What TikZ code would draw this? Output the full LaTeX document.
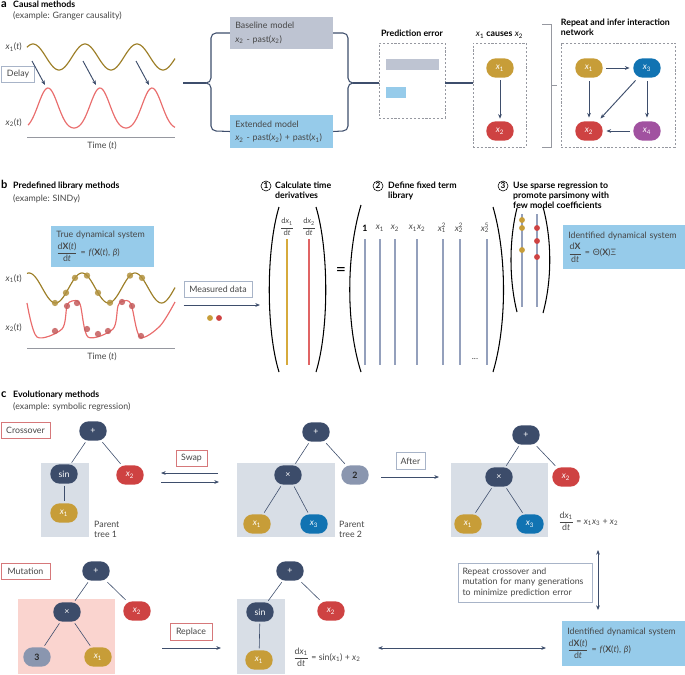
\documentclass[tikz,border=0pt]{standalone}
\usepackage{fontspec}
\setmainfont{Lato}
\usepackage{amsmath}
\usetikzlibrary{arrows.meta,positioning,calc}
\definecolor{nodegold}  {RGB}{199,157,56}
\definecolor{nodered}   {RGB}{206,66,66}
\definecolor{nodeblue}  {RGB}{17,115,178}
\definecolor{nodepurple}{RGB}{161,82,160}
\definecolor{nodenavy}  {RGB}{60,76,106}
\definecolor{nodegray}  {RGB}{138,150,175}
\definecolor{boxblue}   {RGB}{150,203,234}
\definecolor{boxgray}   {RGB}{190,196,210}
\definecolor{areagray}  {RGB}{216,222,230}
\definecolor{areapink}  {RGB}{250,212,207}
\definecolor{linenavy}  {RGB}{62,78,108}
\definecolor{tagred}    {RGB}{214,120,122}
\definecolor{taggray}   {RGB}{168,180,200}
\definecolor{wavegold}  {RGB}{157,127,40}
\definecolor{wavered}   {RGB}{233,108,108}
\definecolor{bargray}   {RGB}{148,160,188}
\definecolor{bargold}   {RGB}{214,170,60}
\definecolor{barred}    {RGB}{224,100,100}
\definecolor{dotgold}   {RGB}{178,146,62}
\definecolor{dotred}    {RGB}{196,92,92}
\definecolor{textgray}  {RGB}{70,70,70}
\definecolor{axisgray}  {RGB}{150,152,160}
\newcommand{\fsz}{\fontsize{7.5}{9}\selectfont}
\newcommand{\xs}[1]{\textit{x}\textsubscript{#1}}
\newcommand{\sqx}[2]{\textit{x}\rlap{\textsuperscript{#2}}\textsubscript{#1}}
\newcommand{\tfr}[2]{$\genfrac{}{}{0.4pt}{0}{\text{#1}}{\text{#2}}$}
\tikzset{
  pill/.style    ={rounded corners=0.28cm, minimum width=0.82cm,
                   minimum height=0.58cm, inner sep=1pt, text=white},
  gnode/.style   ={pill, fill=nodegold},
  rnode/.style   ={pill, fill=nodered},
  bnode/.style   ={pill, fill=nodeblue},
  pnode/.style   ={pill, fill=nodepurple},
  knode/.style   ={pill, fill=nodenavy},
  cnode/.style   ={pill, fill=nodegray, text=black!85, font=\fsz\bfseries},
  tagbox/.style  ={draw=taggray, fill=white, line width=0.6pt, text=textgray,
                   minimum height=0.5cm, inner sep=2pt},
  redtag/.style  ={tagbox, draw=tagred},
  infobox/.style ={align=left, text=textgray, inner sep=0.16cm,
                   font=\fontsize{7.5}{11.5}\selectfont},
  dbox/.style    ={draw=axisgray, dash pattern=on 1.8pt off 1.5pt, line width=0.5pt},
  greyarea/.style={fill=areagray, inner sep=0pt},
  pinkarea/.style={fill=areapink, inner sep=0pt},
  arr/.style     ={-{Stealth[length=4pt,width=3.2pt]}, draw=linenavy, line width=0.8pt},
  darr/.style    ={{Stealth[length=4pt,width=3.2pt]}-{Stealth[length=4pt,width=3.2pt]},
                   draw=linenavy, line width=0.8pt},
  tedge/.style   ={draw=linenavy, line width=0.5pt, shorten <=1.5pt, shorten >=1.5pt},
  braceline/.style={draw=linenavy, line width=0.9pt},
  headtxt/.style ={font=\fontsize{7.5}{8.6}\selectfont\bfseries, inner sep=0pt,
                   align=left, text=black},
  subtxt/.style  ={inner sep=0pt, text=textgray},
  letter/.style  ={font=\fontsize{9.5}{9.5}\selectfont\bfseries, inner sep=0pt, text=black},
  numcirc/.style ={draw, circle, inner sep=0.5pt, minimum size=0.3cm,
                   font=\fontsize{7}{7}\selectfont\bfseries, line width=0.5pt, text=black},
  colbar/.style  ={line width=2.1pt, draw=bargray},
  parline/.style ={line width=0.9pt},
  wave/.style    ={line width=1pt},
}

\begin{document}
\begin{tikzpicture}[x=0.03cm, y=-0.03cm, font=\fsz, text=textgray]
  \useasboundingbox (0,0) rectangle (685,674);

  %% a: causal methods
  \node[letter, anchor=base west]  (la) at (1,7.5)   {a};
  \node[headtxt, anchor=base west] (ha) at (13,7.5)  {Causal methods};
  \node[subtxt, anchor=base west]  (sa) at (13,18.5) {(example: Granger causality)};

  \node[subtxt, anchor=base east] (lx1a) at (22,50)  {\xs{1}(\textit{t})};
  \node[subtxt, anchor=base east] (lx2a) at (22,125) {\xs{2}(\textit{t})};
  \draw[wave, draw=wavegold] plot[domain=27:175, samples=120]
    (\x, {57-13*cos((\x-85)*6.9231)});
  \draw[wave, draw=wavered] plot[domain=28:175, samples=120]
    (\x, {128-40*(0.5*(0.5+0.5*cos((\x-48)*6.9231))+0.5*(0.5+0.5*cos((\x-48)*6.9231))^2)});
  \node[tagbox, minimum width=0.99cm] (delay) at (18,74.5) {Delay};
  \coordinate (da1) at (32,61);  \coordinate (db1) at (45,85);
  \coordinate (da2) at (83,61);  \coordinate (db2) at (96,85);
  \coordinate (da3) at (136,61); \coordinate (db3) at (149,85);
  \draw[arr] (da1) -- (db1);
  \draw[arr] (da2) -- (db2);
  \draw[arr] (da3) -- (db3);
  \draw[axisgray, line width=0.6pt] (27,137) -- (175,137);
  \node[subtxt] (tma) at (102,145.5) {Time (\textit{t})};

  \node[infobox, fill=boxgray, minimum width=3.09cm, minimum height=0.96cm,
        text width=2.77cm] (bmod) at (281.5,33) {Baseline model\\\xs{2} - past(\xs{2})};
  \node[infobox, fill=boxblue, minimum width=3.09cm, minimum height=0.96cm,
        text width=2.77cm] (emod) at (281.5,131.5)
        {Extended model\\\xs{2} - past(\xs{2}) + past(\xs{1})};
  \coordinate (wv)  at (183,83);
  \coordinate (bcl) at (206,83);
  \coordinate (bcr) at (353,83);
  \draw[braceline] (wv) -- (bcl);
  \draw[braceline] (bmod.west) -- (216,33) to[out=180,in=90] (211,38) -- (211,78)
    to[out=-90,in=0] (bcl) to[out=0,in=90] (211,88) -- (211,126)
    to[out=-90,in=180] (216,131) -- (emod.west);
  \draw[braceline] (bmod.east) -- (343,33) to[out=0,in=90] (348,38) -- (348,78)
    to[out=-90,in=180] (bcr) to[out=180,in=90] (348,88) -- (348,126)
    to[out=-90,in=0] (343,131) -- (emod.east);

  \node[dbox, minimum width=1.98cm, minimum height=2.25cm] (perr) at (412,80.5) {};
  \node[headtxt, above=0.18cm of perr] (tperr) {Prediction error};
  \node[fill=boxgray, minimum width=1.59cm, minimum height=0.33cm, inner sep=0pt]
    (egray) at (412.5,64.5) {};
  \node[fill=boxblue, minimum width=0.6cm, minimum height=0.33cm, inner sep=0pt]
    (eblue) at (396,92.5) {};
  \draw[braceline] (bcr) -- (perr.west |- bcr);

  \node[dbox, minimum width=1.59cm, minimum height=3.12cm] (cbox) at (499.5,95) {};
  \node[inner sep=0pt, text=black, above=0.12cm of cbox] (tcbox) {\xs{1} \textbf{causes} \xs{2}};
  \draw[braceline] (perr.east |- bcr) -- (cbox.west |- bcr);
  \node[gnode] (cx1) at (500,68)  {\xs{1}};
  \node[rnode] (cx2) at (500,131) {\xs{2}};
  \draw[arr, shorten <=2pt, shorten >=2pt] (cx1) -- (cx2);

  \draw[axisgray, line width=0.6pt] (542,24) -- (551,24) -- (551,147) -- (542,147)
    (551,85) -- (557,85);
  \node[dbox, minimum width=3.42cm, minimum height=3.12cm] (nbox) at (618,95) {};
  \node[headtxt, above right=0.2cm and 0cm of nbox.north west] (tnbox)
    {Repeat and infer interaction\\network};
  \node[gnode] (nx1) at (589,68)  {\xs{1}};
  \node[bnode] (nx3) at (647,68)  {\xs{3}};
  \node[rnode] (nx2) at (589,131) {\xs{2}};
  \node[pnode] (nx4) at (647,131) {\xs{4}};
  \draw[arr, shorten <=3pt, shorten >=3pt] (nx1) -- (nx3);
  \draw[arr, shorten <=3pt, shorten >=3pt] (nx1) -- (nx2);
  \draw[arr, shorten <=3pt, shorten >=3pt] (nx3) -- (nx2);
  \draw[arr, shorten <=3pt, shorten >=3pt] (nx3) -- (nx4);
  \draw[arr, shorten <=3pt, shorten >=3pt] (nx4) -- (nx2);

  %% b: predefined library methods
  \node[letter, anchor=base west]  (lb) at (1,188)    {b};
  \node[headtxt, anchor=base west] (hb) at (13,188)   {Predefined library methods};
  \node[subtxt, anchor=base west]  (sb) at (13,201.5) {(example: SINDy)};

  \node[infobox, fill=boxblue, minimum width=3.09cm, minimum height=1.23cm,
        text width=2.77cm] (truesys) at (102.5,246.5)
        {True dynamical system\\[2pt]\tfr{d\textbf{X}(\textit{t})}{d\textit{t}}
         = \textit{f}(\textbf{X}(\textit{t}), \textit{β})};
  \node[subtxt, anchor=base east] (lx1b) at (22,281) {\xs{1}(\textit{t})};
  \node[subtxt, anchor=base east] (lx2b) at (22,330) {\xs{2}(\textit{t})};
  \draw[wave, draw=wavegold] plot[domain=27:175, samples=120]
    (\x, {288-15*cos((\x-82)*6.7925)});
  \foreach \xd in {55,66,75,87,98,110,130,142}
    \fill[dotgold, opacity=0.85] (\xd, {288-15*cos((\xd-82)*6.7925)}) circle (2.7pt);
  \draw[wave, draw=wavered] plot[smooth, tension=0.5] coordinates {(27,303) (37,337)
    (62,329) (67,306) (72,301) (80,304) (88,337) (113,329) (118,306) (123,301)
    (131,304) (140,337) (160,326) (175,302)};
  \foreach \xd/\yd in {55/331,67/306,77/303,87/329,98/334,108/331,122/302,132/306,141/336}
    \fill[dotred, opacity=0.85] (\xd,\yd) circle (2.7pt);
  \draw[axisgray, line width=0.6pt] (27,348) -- (175,348);
  \node[subtxt] (tmb) at (102,357) {Time (\textit{t})};

  \node[tagbox, minimum width=2.04cm] (meas) at (218,289.5) {Measured data};
  \coordinate (mend) at (260,305);
  \draw[arr] (meas.south west |- mend) -- (mend);
  \fill[nodegold] (210,318) circle (2.5pt);
  \fill[nodered]  (219,318) circle (2.5pt);

  % derivative matrix
  \node[numcirc] (n1) at (266,186) {1};
  \node[headtxt, anchor=north west] (h1) at (275,181.5) {Calculate time\\derivatives};
  \draw[parline] (279,207) .. controls (266,250) and (266,330) .. (279,372);
  \draw[parline] (316,207) .. controls (329,250) and (329,330) .. (316,372);
  \node[inner sep=0pt, font=\fontsize{6.5}{7}\selectfont] (dx1) at (287,227)
    {\tfr{d\xs{1}}{d\textit{t}}};
  \node[inner sep=0pt, font=\fontsize{6.5}{7}\selectfont] (dx2) at (309,227)
    {\tfr{d\xs{2}}{d\textit{t}}};
  \draw[colbar, draw=bargold] (287,239) -- (287,365);
  \draw[colbar, draw=barred]  (309,239) -- (309,365);
  \node[inner sep=0pt, text=black, font=\fontsize{15}{15}\selectfont] (eqs) at (341,272) {=};

  % library matrix
  \node[numcirc] (n2) at (378,186) {2};
  \node[headtxt, anchor=north west] (h2) at (388,181.5) {Define fixed term\\library};
  \draw[parline] (361,205) .. controls (346,255) and (346,325) .. (361,372);
  \draw[parline] (493,207) .. controls (507,255) and (507,325) .. (493,372);
  \node[inner sep=0pt, text=black, font=\fsz\bfseries] (c1) at (365,228) {1};
  \node[inner sep=0pt] (cx1) at (380,228) {\xs{1}};
  \node[inner sep=0pt] (cx2) at (395,228) {\xs{2}};
  \node[inner sep=0pt] (cx12) at (417,228) {\xs{1}\xs{2}};
  \node[inner sep=0pt] (cx1s) at (442,228) {\sqx{1}{2}};
  \node[inner sep=0pt] (cx2s) at (459,228) {\sqx{2}{2}};
  \node[inner sep=0pt] (cx2f) at (485,228) {\sqx{2}{5}};
  \foreach \xb in {365,380,395,417,443,460,487}
    \draw[colbar] (\xb,239) -- (\xb,365);
  \node[inner sep=0pt] (dots) at (475,359) {...};

  % sparse coefficients
  \node[numcirc] (n3) at (503,186) {3};
  \node[headtxt, anchor=north west] (h3) at (513,181.5)
    {Use sparse regression to\\promote parsimony with\\few model coefficients};
  \draw[parline] (517,208) .. controls (509,240) and (509,280) .. (517,312);
  \draw[parline] (543,207) .. controls (552,240) and (552,280) .. (543,313);
  \draw[colbar] (522,214) -- (522,307);
  \draw[colbar] (537,214) -- (537,307);
  \foreach \yd in {220,228,250}
    \fill[nodegold] (522,\yd) circle (2.5pt);
  \foreach \yd in {228,241,257}
    \fill[nodered] (537,\yd) circle (2.5pt);
  \node[infobox, fill=boxblue, minimum width=3.66cm, minimum height=1.32cm,
        text width=3.34cm] (idb) at (624,247)
        {Identified dynamical system\\[2pt]\tfr{d\textbf{X}}{d\textit{t}} = Θ(\textbf{X})Ξ};

  %% c: evolutionary methods
  \node[letter, anchor=base west]  (lc) at (1,397)  {c};
  \node[headtxt, anchor=base west] (hc) at (13,397) {Evolutionary methods};
  \node[subtxt, anchor=base west]  (sc) at (13,409) {(example: symbolic regression)};

  % crossover
  \node[redtag, minimum width=1.47cm] (xover) at (25.5,430.5) {Crossover};
  \node[greyarea, minimum width=1.44cm, minimum height=2.22cm] (sh1) at (65,500) {};
  \node[knode] (p1) at (93,431)  {+};
  \node[knode] (s1) at (64,474)  {sin};
  \node[rnode] (a1) at (130,475) {\xs{2}};
  \node[gnode] (b1) at (64,513)  {\xs{1}};
  \draw[tedge] (p1) -- (s1);
  \draw[tedge] (p1) -- (a1);
  \draw[tedge] (s1) -- (b1);
  \node[subtxt, anchor=north west, align=left, font=\fontsize{7.5}{8.6}\selectfont]
    (pt1) at (94,520.5) {Parent\\tree 1};

  \node[redtag, minimum width=0.93cm] (swap) at (191.5,458.5) {Swap};
  \coordinate (sw1) at (218,473); \coordinate (sw2) at (161,473);
  \coordinate (sw3) at (161,482); \coordinate (sw4) at (219,482);
  \draw[arr] (sw1) -- (sw2);
  \draw[arr] (sw3) -- (sw4);

  \node[greyarea, minimum width=2.94cm, minimum height=2.22cm] (sh2) at (286,500) {};
  \node[knode] (p2) at (316,432) {+};
  \node[knode] (m2) at (288,475) {×};
  \node[cnode] (c2) at (355,475) {2};
  \node[gnode] (b2) at (257,524) {\xs{1}};
  \node[bnode] (t2) at (314,524) {\xs{3}};
  \draw[tedge] (p2) -- (m2);
  \draw[tedge] (p2) -- (c2);
  \draw[tedge] (m2) -- (b2);
  \draw[tedge] (m2) -- (t2);
  \node[subtxt, anchor=north west, align=left, font=\fontsize{7.5}{8.6}\selectfont]
    (pt2) at (339,520.5) {Parent\\tree 2};

  \node[tagbox, minimum width=0.87cm] (after) at (410.5,461) {After};
  \coordinate (af1) at (381,477); \coordinate (af2) at (439,477);
  \draw[arr] (af1) -- (af2);

  \node[greyarea, minimum width=2.91cm, minimum height=2.22cm] (sh3) at (499.5,500) {};
  \node[knode] (p3) at (526,435) {+};
  \node[knode] (m3) at (499,477) {×};
  \node[rnode] (a3) at (566,477) {\xs{2}};
  \node[gnode] (b3) at (468,524) {\xs{1}};
  \node[bnode] (t3) at (530,524) {\xs{3}};
  \draw[tedge] (p3) -- (m3);
  \draw[tedge] (p3) -- (a3);
  \draw[tedge] (m3) -- (b3);
  \draw[tedge] (m3) -- (t3);
  \node[subtxt, anchor=west] (eq3) at (558,521)
    {\tfr{d\xs{1}}{d\textit{t}} = \xs{1}\xs{3} + \xs{2}};

  % mutation
  \node[redtag, minimum width=1.47cm] (mut) at (25.5,571.5) {Mutation};
  \node[pinkarea, minimum width=2.91cm, minimum height=2.25cm] (sh4) at (66.5,636.5) {};
  \node[knode] (p4) at (96,571)  {+};
  \node[knode] (m4) at (67,612)  {×};
  \node[rnode] (a4) at (137,611) {\xs{2}};
  \node[cnode] (c4) at (37,657)  {3};
  \node[gnode] (b4) at (98,657)  {\xs{1}};
  \draw[tedge] (p4) -- (m4);
  \draw[tedge] (p4) -- (a4);
  \draw[tedge] (m4) -- (c4);
  \draw[tedge] (m4) -- (b4);

  \node[redtag, minimum width=1.26cm] (repl) at (191,632) {Replace};
  \coordinate (rp1) at (162,648); \coordinate (rp2) at (221,648);
  \draw[arr] (rp1) -- (rp2);

  \node[greyarea, minimum width=1.44cm, minimum height=2.25cm] (sh5) at (261,636.5) {};
  \node[knode] (p5) at (290,571) {+};
  \node[knode] (s5) at (260,612) {sin};
  \node[rnode] (a5) at (331,611) {\xs{2}};
  \node[gnode] (b5) at (259,660) {\xs{1}};
  \draw[tedge] (p5) -- (s5);
  \draw[tedge] (p5) -- (a5);
  \draw[tedge] (s5) -- (b5);
  \node[subtxt, anchor=west] (eq5) at (293,657)
    {\tfr{d\xs{1}}{d\textit{t}} = sin(\xs{1}) + \xs{2}};

  \coordinate (lp1) at (378,648); \coordinate (lp2) at (546,648);
  \draw[darr] (lp1) -- (lp2);
  \node[tagbox, minimum width=4.02cm, minimum height=1.17cm, align=left,
        text width=3.75cm, font=\fontsize{7.5}{9}\selectfont] (rep) at (525,582.5)
    {Repeat crossover and\\mutation for many generations\\to minimize prediction error};
  \coordinate (vp1) at (598,550); \coordinate (vp2) at (598,610);
  \draw[darr] (vp1) -- (vp2);
  \node[infobox, fill=boxblue, minimum width=3.69cm, minimum height=1.35cm,
        text width=3.37cm] (idc) at (623.5,643.5)
        {Identified dynamical system\\[2pt]\tfr{d\textbf{X}(\textit{t})}{d\textit{t}}
         = \textit{f}(\textbf{X}(\textit{t}), \textit{β})};
\end{tikzpicture}
\end{document}
